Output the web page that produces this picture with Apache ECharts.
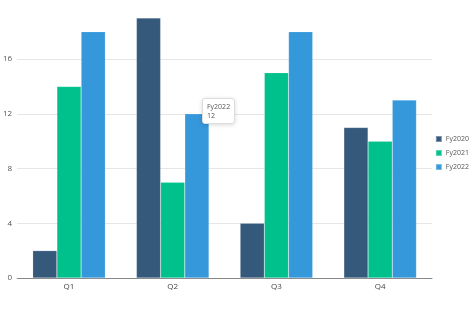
<!DOCTYPE html>
<html><head><meta charset="utf-8">
<script src="https://cdn.jsdelivr.net/npm/echarts@6/dist/echarts.min.js"></script>
<style>html,body{margin:0;padding:0;background:#fff}#c{width:474px;height:310px}</style>
</head><body><div id="c"></div>
<script>
const categories = ['Q1','Q2','Q3','Q4'];
const fy2020 = [2, 19, 4, 11];
const fy2021 = [14, 7, 15, 10];
const fy2022 = [18, 12, 18, 13];
const seriesNames = ['Fy2020','Fy2021','Fy2022'];
const yTicks = [0, 4, 8, 12, 16];

const colors = ['#35597b', '#00c08b', '#3498db'];
const chart = echarts.init(document.getElementById('c'));
const font = 'Open Sans';
const mk = (name, data, i) => ({
  name, type: 'bar', data, barGap: '0%', barCategoryGap: '30%',
  itemStyle: { color: colors[i], borderColor: 'rgba(255,255,255,0.35)', borderWidth: 0.5 }
});
chart.setOption({
  animation: false,
  textStyle: { fontFamily: font },
  grid: { left: 16, right: 42, top: 18, bottom: 32, containLabel: false },
  tooltip: {
    trigger: 'item', triggerOn: 'none', alwaysShowContent: true,
    backgroundColor: '#fff', borderColor: '#ddd', borderWidth: 1, padding: [3, 4],
    extraCssText: 'box-shadow:0 1px 4px rgba(0,0,0,0.15);border-radius:3px;line-height:9px;',
    textStyle: { fontSize: 7, color: '#555', fontFamily: font },
    formatter: p => p.seriesName + '<br/>' + p.value,
    position: (point) => [point[0] + 29, point[1] - 16]
  },
  legend: {
    orient: 'vertical', right: 0, top: 130, itemWidth: 6, itemHeight: 6, itemGap: 6,
    icon: 'rect', data: seriesNames,
    textStyle: { fontSize: 7, color: '#555', fontFamily: font, padding: [0, 0, 0, -1] }
  },
  xAxis: {
    type: 'category', data: categories,
    axisLine: { lineStyle: { color: '#888', width: 1 } },
    axisTick: { show: false },
    axisLabel: { fontSize: 8, color: '#444', margin: 5 }
  },
  yAxis: {
    type: 'value', min: 0, max: 19, interval: 4,
    axisLine: { show: false }, axisTick: { show: false },
    axisLabel: { fontSize: 8, color: '#555', margin: 5, showMaxLabel: false,
      formatter: v => yTicks.includes(v) ? String(v) : '' },
    splitLine: { lineStyle: { color: ['#e6e6e6','#e6e6e6','#e6e6e6','#e6e6e6','#e6e6e6','rgba(0,0,0,0)'], width: 1 } }
  },
  series: [mk(seriesNames[0], fy2020, 0), mk(seriesNames[1], fy2021, 1), mk(seriesNames[2], fy2022, 2)]
});
chart.dispatchAction({ type: 'showTip', seriesIndex: 2, dataIndex: 1 });
</script></body></html>
